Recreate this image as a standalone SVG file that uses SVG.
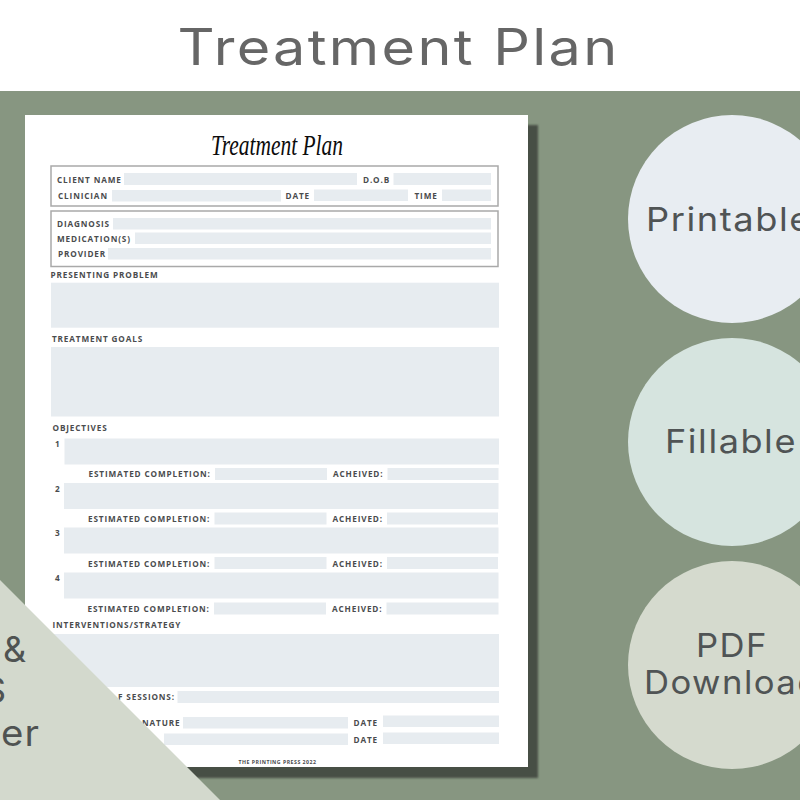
<svg xmlns="http://www.w3.org/2000/svg" width="800" height="800" viewBox="0 0 800 800">
<defs>
<filter id="blur" x="-10%" y="-10%" width="120%" height="120%"><feGaussianBlur stdDeviation="1.200"/></filter>
</defs>
<style>
.f{fill:#e7ecf0}
.l{font-family:"Open Sans","Liberation Sans",sans-serif;font-weight:700;font-size:8.2px;letter-spacing:.86px;fill:#4a4c4e}
.b{fill:none;stroke:#a9a9a9;stroke-width:1.5}
.c{font-family:Inter,"Open Sans",sans-serif;font-size:33px;letter-spacing:1.4px;fill:#505455}
.t{font-family:Inter,"Open Sans",sans-serif;font-size:36px;letter-spacing:1px;fill:#4f5352}
</style>
<rect width="800" height="800" fill="#879681"/>
<rect width="800" height="91" fill="#fff"/>
<text id="heading" x="177.500" y="65" font-family="Inter,'Open Sans',sans-serif" font-size="50" letter-spacing="2" fill="#666" textLength="442" lengthAdjust="spacingAndGlyphs">Treatment Plan</text>

<g id="page">
<rect x="35" y="125" width="503" height="653" fill="#465044" filter="url(#blur)"/>
<rect x="25" y="115" width="503" height="652" fill="#fff"/>
<text x="277" y="155" font-family="'Liberation Serif',serif" font-style="italic" font-size="29" fill="#0c0c0c" text-anchor="middle" textLength="132" lengthAdjust="spacingAndGlyphs">Treatment Plan</text>
<rect class="b" x="51" y="166" width="447" height="40"/>
<rect class="b" x="51" y="211" width="447" height="55.500"/>
<rect class="f" x="124" y="173" width="233" height="12"/>
<rect class="f" x="393.500" y="173" width="97.500" height="12"/>
<rect class="f" x="112" y="190" width="169" height="11.500"/>
<rect class="f" x="314" y="189.500" width="94" height="11.500"/>
<rect class="f" x="442" y="189.500" width="49" height="11.500"/>
<rect class="f" x="113" y="218" width="378" height="11.500"/>
<rect class="f" x="135" y="232.500" width="356" height="11.500"/>
<rect class="f" x="108" y="248" width="383" height="11.500"/>
<rect class="f" x="51" y="282.700" width="448" height="45"/>
<rect class="f" x="51" y="347" width="448" height="69.500"/>
<rect class="f" x="64.500" y="438.500" width="434.500" height="26"/>
<rect class="f" x="215" y="468" width="112" height="12"/>
<rect class="f" x="387.500" y="468" width="111" height="12"/>
<rect class="f" x="64" y="483" width="434.500" height="26"/>
<rect class="f" x="214.500" y="512.500" width="112" height="12"/>
<rect class="f" x="387" y="512.500" width="111" height="12"/>
<rect class="f" x="64" y="527.500" width="434.500" height="26"/>
<rect class="f" x="214.500" y="557" width="112" height="12"/>
<rect class="f" x="387" y="557" width="111" height="12"/>
<rect class="f" x="64" y="572.500" width="434.500" height="26"/>
<rect class="f" x="214" y="602.500" width="112" height="12"/>
<rect class="f" x="386.500" y="602.500" width="112" height="12"/>
<rect class="f" x="51" y="634" width="448" height="53"/>
<rect class="f" x="177.500" y="691" width="321.500" height="12"/>
<rect class="f" x="183" y="717" width="165" height="11.500"/>
<rect class="f" x="383" y="715.500" width="116" height="11.500"/>
<rect class="f" x="164" y="733.500" width="184" height="11.500"/>
<rect class="f" x="383" y="732.500" width="116" height="11.500"/>
<text class="l" x="57" y="182.500">CLIENT NAME</text>
<text class="l" x="363" y="182.500">D.O.B</text>
<text class="l" x="58" y="198.500">CLINICIAN</text>
<text class="l" x="285.500" y="199">DATE</text>
<text class="l" x="414.500" y="199">TIME</text>
<text class="l" x="57" y="227">DIAGNOSIS</text>
<text class="l" x="57" y="242">MEDICATION(S)</text>
<text class="l" x="58" y="257">PROVIDER</text>
<text class="l" x="50.500" y="278">PRESENTING PROBLEM</text>
<text class="l" x="52" y="342">TREATMENT GOALS</text>
<text class="l" x="52.500" y="431">OBJECTIVES</text>
<text class="l" x="55" y="447">1</text>
<text class="l" x="55" y="491.500">2</text>
<text class="l" x="55" y="536">3</text>
<text class="l" x="55" y="581">4</text>
<text class="l" x="88.500" y="477">ESTIMATED COMPLETION:</text>
<text class="l" x="333" y="477">ACHEIVED:</text>
<text class="l" x="88" y="522">ESTIMATED COMPLETION:</text>
<text class="l" x="332.500" y="522">ACHEIVED:</text>
<text class="l" x="88" y="566.500">ESTIMATED COMPLETION:</text>
<text class="l" x="332.500" y="566.500">ACHEIVED:</text>
<text class="l" x="87.500" y="611.500">ESTIMATED COMPLETION:</text>
<text class="l" x="332" y="611.500">ACHEIVED:</text>
<text class="l" x="52.500" y="628">INTERVENTIONS/STRATEGY</text>
<text class="l" x="118" y="700">F SESSIONS:</text>
<text class="l" x="142" y="726">NATURE</text>
<text class="l" x="353.500" y="726">DATE</text>
<text class="l" x="353.500" y="742.500">DATE</text>
<text x="277.500" y="763.500" font-family="'Open Sans','Liberation Sans',sans-serif" font-weight="700" font-size="5.200" letter-spacing="0.500" fill="#4a4c4e" text-anchor="middle">THE PRINTING PRESS 2022</text>
</g>

<g id="badge-printable"><circle cx="732" cy="219" r="104" fill="#e8edf2"/><text class="c" x="646" y="231" textLength="166" lengthAdjust="spacingAndGlyphs">Printable</text></g>
<g id="badge-fillable"><circle cx="732" cy="442" r="104" fill="#d6e4df"/><text class="c" x="665" y="453" textLength="132" lengthAdjust="spacingAndGlyphs">Fillable</text></g>
<g id="badge-pdf"><circle cx="732" cy="665" r="104" fill="#d5dace"/><text class="c" x="696" y="657" textLength="72" lengthAdjust="spacingAndGlyphs">PDF</text><text class="c" x="644" y="694" textLength="176" lengthAdjust="spacingAndGlyphs">Download</text></g>

<g id="corner"><polygon points="0,580 220,800 0,800" fill="#d3d9cd"/>
<text class="t" x="3" y="662">&amp;</text>
<text class="t" x="-17" y="703">S</text>
<text class="t" x="1" y="746" textLength="39" lengthAdjust="spacingAndGlyphs">er</text></g>
</svg>
